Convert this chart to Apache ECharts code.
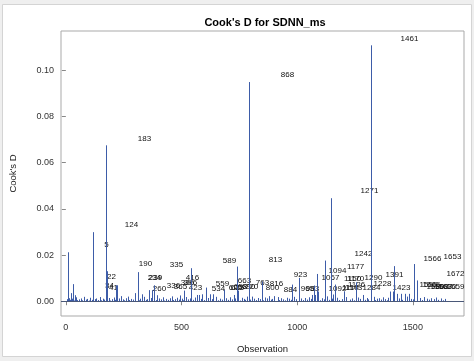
<!DOCTYPE html>
<html>
<head>
<meta charset="utf-8">
<script src="https://cdn.jsdelivr.net/npm/echarts@6/dist/echarts.min.js"></script>
<style>html,body{margin:0;padding:0;background:#efefef}#c{width:474px;height:361px}</style>
</head>
<body>
<div id="c"></div>
<script>
// ---- data ----
const titleText = "Cook's D for SDNN_ms";
const xTicks = [0, 500, 1000, 1500];
const yTicks = [0, 0.02, 0.04, 0.06, 0.08, 0.10];
const cutoff = 0.0024;

// observations flagged with ID labels
const labeledObs = [11, 32, 23, 41, 117, 173, 177, 216, 222, 237, 310, 301, 331, 361, 374, 382, 395,
  493, 512, 543, 566, 576, 589, 607, 623, 636, 685, 725, 740, 745, 790, 806, 846, 877, 899,
  979, 1008, 1007, 1064, 1076, 1071, 1085, 1092, 1086, 1121, 1144, 1156, 1163, 1202, 1256, 1284, 1321,
  1400, 1420, 1413, 1430, 1447, 1465, 1482, 1507, 1519, 1517];
const labeledCooksD = [0.0212, 0.0074, 0.0035, 0.0026, 0.0299, 0.0675, 0.0130, 0.0069, 0.0069, 0.0022, 0.0126, 0.0035, 0.0030, 0.0048, 0.0048, 0.0069, 0.0026,
  0.0025, 0.0046, 0.0143, 0.0027, 0.0027, 0.0030, 0.0059, 0.0030, 0.0030, 0.0049, 0.0027, 0.0150, 0.0046, 0.0949, 0.0020, 0.0085, 0.0022, 0.0022,
  0.0072, 0.0025, 0.0101, 0.0027, 0.0027, 0.0068, 0.0068, 0.0042, 0.0118, 0.0176, 0.0446, 0.0029, 0.0072, 0.0043, 0.0082, 0.0027, 0.1108,
  0.0042, 0.0152, 0.0042, 0.0032, 0.0032, 0.0032, 0.0032, 0.0161, 0.0090, 0.0032];
const labeledIds = ['5', '22', '34', '41', '124', '183', '190', '234', '239', '260', '335', '336', '365', '386', '396', '416', '423',
  '534', '559', '589', '625', '635', '658', '663', '690', '720', '763', '800', '813', '816', '868', '884', '923', '965', '983',
  '1067', '1092', '1094', '1119', '1143', '1150', '1170', '1126', '1177', '1242', '1271', '1284', '1290', '1228', '1391', '1423', '1461',
  '1555', '1566', '1565', '1580', '1598', '1607', '1630', '1653', '1672', '1659'];

// remaining small observations
const smallObs = [3, 8, 15, 19, 27, 36, 45, 50, 57, 64, 71, 78, 86, 93, 99, 106, 112, 124, 131, 138, 146, 152, 160, 166, 185, 192, 199, 207, 213, 229,
  245, 252, 260, 268, 275, 283, 290, 297, 315, 322, 338, 345, 352, 368, 389, 402, 410, 418, 426, 434, 441, 449, 457, 464, 472, 480, 487, 500, 507, 520,
  528, 535, 551, 558, 582, 597, 615, 631, 650, 658, 666, 674, 692, 700, 708, 716, 732, 752, 760, 768, 776, 784, 798, 814, 822, 830, 838, 853, 861, 869,
  885, 893, 915, 923, 931, 940, 948, 956, 964, 972, 988, 996, 1018, 1026, 1034, 1042, 1050, 1058, 1100, 1108, 1114, 1130, 1138, 1150, 1172, 1180, 1194, 1210, 1228, 1236,
  1244, 1264, 1272, 1292, 1300, 1308, 1330, 1338, 1346, 1354, 1362, 1370, 1378, 1386, 1394, 1438, 1455, 1473, 1490, 1500, 1530, 1540, 1550, 1560, 1570, 1580, 1590, 1600, 1610, 1620,
  1630, 1638];
const smallCooksD = [0.0009, 0.0004, 0.0013, 0.0006, 0.0011, 0.0003, 0.0017, 0.0005, 0.0008, 0.0012, 0.0004, 0.0019, 0.0007, 0.0010, 0.0003, 0.0015, 0.0006, 0.0009, 0.0012, 0.0005, 0.0018, 0.0004, 0.0011, 0.0007, 0.0014, 0.0003, 0.0009, 0.0016, 0.0006, 0.0012,
  0.0008, 0.0004, 0.0013, 0.0020, 0.0005, 0.0010, 0.0007, 0.0015, 0.0004, 0.0011, 0.0019, 0.0006, 0.0009, 0.0014, 0.0005, 0.0012, 0.0008, 0.0017, 0.0003, 0.0010, 0.0006, 0.0013, 0.0021, 0.0005, 0.0009, 0.0015, 0.0007, 0.0011, 0.0004, 0.0018,
  0.0008, 0.0012, 0.0006, 0.0016, 0.0010, 0.0005, 0.0014, 0.0009, 0.0019, 0.0004, 0.0011, 0.0007, 0.0013, 0.0006, 0.0017, 0.0008, 0.0012, 0.0003, 0.0015, 0.0010, 0.0006, 0.0020, 0.0007, 0.0011, 0.0005, 0.0014, 0.0009, 0.0004, 0.0016, 0.0012,
  0.0007, 0.0010, 0.0018, 0.0005, 0.0013, 0.0008, 0.0004, 0.0015, 0.0011, 0.0006, 0.0019, 0.0009, 0.0012, 0.0005, 0.0014, 0.0007, 0.0017, 0.0010, 0.0004, 0.0013, 0.0008, 0.0021, 0.0006, 0.0011, 0.0015, 0.0005, 0.0009, 0.0018, 0.0007, 0.0012,
  0.0004, 0.0016, 0.0010, 0.0006, 0.0014, 0.0008, 0.0019, 0.0005, 0.0011, 0.0013, 0.0007, 0.0017, 0.0009, 0.0004, 0.0015, 0.0012, 0.0006, 0.0020, 0.0010, 0.0008, 0.0014, 0.0005, 0.0018, 0.0011, 0.0007, 0.0013, 0.0009, 0.0016, 0.0006, 0.0012,
  0.0004, 0.0010];

// ---- chart ----
const NEEDLE = '#3d5ca8';
const FONT = "'Liberation Sans', Arial, sans-serif";
const chart = echarts.init(document.getElementById('c'), null, {renderer: 'canvas'});

function needleShape(api) {
  const x = api.value(0), y = api.value(1);
  const p0 = api.coord([x, 0]);
  const p1 = api.coord([x, y]);
  const px = Math.round(p0[0]) + 0.5;
  return {px: px, top: p1[1], base: p0[1]};
}

const smallData = smallObs.slice(0, Math.min(smallObs.length, smallCooksD.length)).map((o, i) => [o, smallCooksD[i]]);
const labeledData = labeledObs.map((o, i) => [o, labeledCooksD[i]]);

chart.setOption({
  backgroundColor: '#efefef',
  animation: false,
  graphic: {elements: [{
    type: 'rect', z: -10, shape: {x: 2.5, y: 4.5, width: 469, height: 352},
    style: {fill: '#ffffff', stroke: '#d4d4d4', lineWidth: 1}
  }]},
  title: {
    text: titleText, left: 260, top: 12, textAlign: 'center',
    textStyle: {fontFamily: FONT, fontSize: 11, fontWeight: 'bold', color: '#000'}
  },
  grid: {left: 56, right: 10, top: 31, bottom: 45, show: true, borderColor: '#a9a9a9', borderWidth: 1, backgroundColor: 'transparent'},
  xAxis: {
    type: 'value', min: -21, max: 1721,
    name: 'Observation', nameLocation: 'middle', nameGap: 28,
    nameTextStyle: {fontFamily: FONT, fontSize: 9.5, color: '#222'},
    axisLine: {show: false},
    axisTick: {show: true, length: 4, customValues: xTicks, lineStyle: {color: '#888'}},
    axisLabel: {customValues: xTicks, fontFamily: FONT, fontSize: 9, color: '#333', margin: 7,
      formatter: v => String(v)},
    splitLine: {show: false}
  },
  yAxis: {
    type: 'value', min: -0.0064, max: 0.117,
    name: "Cook's D", nameLocation: 'middle', nameGap: 43,
    nameTextStyle: {fontFamily: FONT, fontSize: 9.5, color: '#222'},
    axisLine: {show: false},
    axisTick: {show: true, length: 4, customValues: yTicks, lineStyle: {color: '#888'}},
    axisLabel: {customValues: yTicks, fontFamily: FONT, fontSize: 9, color: '#333', margin: 7,
      formatter: v => v.toFixed(2)},
    splitLine: {show: false}
  },
  series: [
    {
      type: 'custom', data: smallData, z: 2,
      renderItem: (params, api) => {
        const s = needleShape(api);
        return {type: 'line', shape: {x1: s.px, y1: s.base, x2: s.px, y2: s.top},
          style: {stroke: NEEDLE, lineWidth: 1}};
      },
      markLine: {
        symbol: 'none', silent: true, label: {show: false}, animation: false,
        data: [
          {yAxis: 0, lineStyle: {color: '#2a4a9a', type: 'solid', width: 1}},
          {yAxis: cutoff, lineStyle: {color: '#4a5878', type: 'solid', width: 1}}
        ]
      }
    },
    {
      type: 'custom', data: labeledData, z: 3,
      renderItem: (params, api) => {
        const s = needleShape(api);
        return {type: 'group', children: [
          {type: 'line', shape: {x1: s.px, y1: s.base, x2: s.px, y2: s.top},
            style: {stroke: NEEDLE, lineWidth: 1}},
          {type: 'text', x: s.px + 38, y: s.top - 7,
            style: {text: labeledIds[params.dataIndex], fill: '#111', font: '8px ' + FONT,
              align: 'center', verticalAlign: 'middle'}}
        ]};
      }
    }
  ]
});
</script>
</body>
</html>
